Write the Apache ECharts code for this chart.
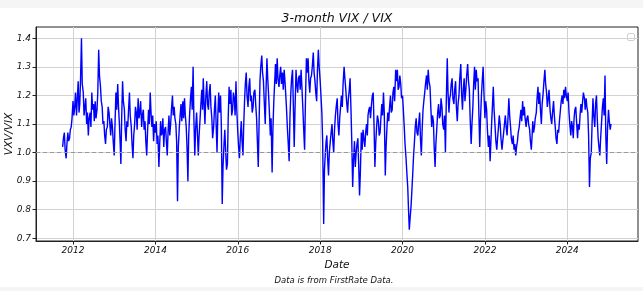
<!DOCTYPE html>
<html>
<head>
<meta charset="utf-8">
<script src="https://cdn.jsdelivr.net/npm/echarts@6/dist/echarts.min.js"></script>
<style>
  html, body { margin: 0; padding: 0; background: #f5f5f5; }
  #chart { width: 643px; height: 291px; }
</style>
</head>
<body>
<div id="chart"></div>
<script>
  // VXV / VIX, four values a month (1st, 8th, 16th, 23rd), from Oct 2011
  var startYear = 2011, startMonth = 9;
  var days = [1, 8, 16, 23];
  var v2011 = [1.02,1.05, 1.07,1.01, 0.98,1.03, 1.07,1.04, 1.05,1.08, 1.09,1.12];
  var v2012 = [1.18,1.13, 1.16,1.21, 1.13,1.19, 1.25,1.14, 1.17,1.26, 1.40,1.24, 1.21,1.13, 1.16,1.19, 1.10,1.14, 1.06,1.12, 1.14,1.09, 1.21,1.15,
               1.17,1.11, 1.18,1.12, 1.15,1.21, 1.36,1.27, 1.23,1.18, 1.16,1.10, 1.11,1.06, 1.03,1.08, 1.09,1.16, 1.14,1.10, 1.06,1.12, 1.09,1.04];
  var v2013 = [0.99,1.10, 1.21,1.15, 1.24,1.16, 1.10,1.03, 0.96,1.12, 1.25,1.18, 1.15,1.08, 1.04,1.11, 1.09,1.15, 1.21,1.13, 1.09,1.03, 0.98,1.06,
               1.10,1.16, 1.14,1.08, 1.19,1.12, 1.14,1.18, 1.09,1.13, 1.15,1.08, 1.11,1.04, 0.99,1.07, 1.15,1.10, 1.21,1.14, 1.09,1.13, 1.04,1.10];
  var v2014 = [1.07,1.11, 1.03,1.06, 0.95,1.03, 1.11,1.06, 1.07,1.12, 1.02,1.08, 1.09,1.04, 0.99,1.07, 1.13,1.06, 1.10,1.15, 1.20,1.13, 1.16,1.12,
               1.10,1.04, 0.83,1.02, 1.09,1.13, 1.17,1.11, 1.18,1.12, 1.19,1.13, 1.09,1.02, 0.90,1.06, 1.14,1.19, 1.23,1.15, 1.30,1.12, 0.99,1.08];
  var v2015 = [1.14,1.07, 0.99,1.06, 1.12,1.17, 1.22,1.15, 1.26,1.18, 1.10,1.19, 1.25,1.17, 1.15,1.21, 1.24,1.16, 1.12,1.05, 1.09,1.15, 1.20,1.10,
               1.00,1.13, 1.21,1.14, 1.20,1.10, 0.82,0.95, 1.03,1.08, 1.00,0.94, 0.96,1.12, 1.23,1.17, 1.22,1.13, 1.15,1.21, 1.19,1.13, 1.25,1.15];
  var v2016 = [1.07,1.02, 0.98,1.05, 1.11,1.04, 0.99,1.10, 1.18,1.24, 1.28,1.20, 1.16,1.23, 1.26,1.18, 1.20,1.14, 1.16,1.21, 1.22,1.17, 1.12,1.04,
               0.95,1.10, 1.25,1.30, 1.34,1.28, 1.25,1.18, 1.10,1.22, 1.33,1.26, 1.20,1.14, 1.06,1.12, 0.93,1.08, 1.18,1.24, 1.31,1.24, 1.33,1.26];
  var v2017 = [1.23,1.27, 1.30,1.24, 1.28,1.22, 1.29,1.25, 1.21,1.16, 1.09,1.04, 0.97,1.12, 1.21,1.26, 1.29,1.17, 1.02,1.15, 1.29,1.24, 1.21,1.26,
               1.27,1.22, 1.29,1.23, 1.15,1.08, 1.01,1.17, 1.33,1.28, 1.33,1.25, 1.21,1.26, 1.27,1.30, 1.35,1.28, 1.25,1.21, 1.18,1.29, 1.36,1.30];
  var v2018 = [1.25,1.20, 1.14,1.04, 0.75,0.94, 1.00,1.04, 1.06,0.98, 0.92,1.00, 1.04,1.07, 1.10,1.04, 1.00,1.08, 1.13,1.16, 1.19,1.10, 1.06,1.12,
               1.16,1.20, 1.16,1.24, 1.30,1.26, 1.22,1.18, 1.14,1.19, 1.22,1.26, 1.15,1.04, 0.88,0.97, 1.04,0.95, 1.00,1.03, 1.05,0.96, 0.85,0.93];
  var v2019 = [1.07,1.01, 1.08,1.05, 1.02,1.07, 1.10,1.06, 1.13,1.15, 1.16,1.12, 1.17,1.20, 1.21,1.10, 0.95,1.03, 1.09,1.13, 1.11,1.06, 1.07,1.12,
               1.17,1.13, 1.21,1.14, 0.92,1.02, 1.09,1.14, 1.11,1.16, 1.20,1.14, 1.15,1.21, 1.23,1.18, 1.29,1.25, 1.29,1.22, 1.23,1.27, 1.24,1.19];
  var v2020 = [1.20,1.15, 1.09,1.03, 0.98,0.93, 0.88,0.80, 0.73,0.77, 0.81,0.86, 0.93,0.99, 1.04,1.09, 1.12,1.07, 1.06,1.10, 1.14,1.05, 0.99,1.08,
               1.15,1.18, 1.21,1.24, 1.27,1.22, 1.29,1.25, 1.23,1.16, 1.09,1.13, 1.11,1.02, 0.95,1.03, 1.09,1.14, 1.17,1.12, 1.13,1.19, 1.16,1.10];
  var v2021 = [1.08,1.13, 1.00,1.17, 1.33,1.21, 1.14,1.19, 1.20,1.24, 1.26,1.19, 1.17,1.22, 1.25,1.16, 1.11,1.17, 1.20,1.26, 1.31,1.21, 1.15,1.22,
               1.26,1.18, 1.22,1.27, 1.31,1.25, 1.22,1.12, 1.03,1.10, 1.16,1.24, 1.30,1.22, 1.29,1.25, 1.26,1.14, 1.02,1.12, 1.20,1.25, 1.30,1.21];
  var v2022 = [1.12,1.18, 1.15,1.08, 1.02,1.06, 0.97,1.04, 1.10,1.16, 1.23,1.15, 1.09,1.04, 1.01,1.05, 1.09,1.13, 1.10,1.05, 1.01,1.04, 1.07,1.10,
               1.13,1.09, 1.06,1.11, 1.19,1.13, 1.09,1.05, 1.03,1.06, 1.01,1.03, 0.99,1.02, 1.04,1.07, 1.09,1.12, 1.15,1.11, 1.18,1.13, 1.16,1.12];
  var v2023 = [1.09,1.12, 1.13,1.10, 1.08,1.04, 1.01,1.06, 1.11,1.07, 1.09,1.12, 1.14,1.19, 1.23,1.17, 1.21,1.15, 1.10,1.17, 1.21,1.25, 1.29,1.24,
               1.21,1.16, 1.19,1.22, 1.15,1.12, 1.10,1.14, 1.18,1.13, 1.09,1.05, 1.03,1.08, 1.07,1.11, 1.15,1.18, 1.20,1.17, 1.22,1.19, 1.23,1.20];
  var v2024 = [1.18,1.21, 1.14,1.10, 1.06,1.11, 1.09,1.05, 1.12,1.15, 1.16,1.11, 1.05,1.10, 1.08,1.13, 1.17,1.14, 1.18,1.21, 1.19,1.15, 1.19,1.16,
               1.14,1.06, 0.88,0.98, 1.00,1.10, 1.19,1.13, 1.09,1.17, 1.20,1.12, 1.05,1.02, 0.99,1.05, 1.11,1.16, 1.19,1.13, 1.27,1.06, 0.96,1.08];
  var v2025 = [1.15,1.11, 1.08,1.10];

  var yearTicks = [2012, 2014, 2016, 2018, 2020, 2022, 2024];
  var ratioTicks = [0.7, 0.8, 0.9, 1.0, 1.1, 1.2, 1.3, 1.4];

  var values = [].concat(v2011, v2012, v2013, v2014, v2015, v2016, v2017, v2018,
    v2019, v2020, v2021, v2022, v2023, v2024, v2025);

  // date -> fractional year, so the x axis can be a plain value axis
  function yearFrac(d) {
    var y = d.getFullYear();
    var a = new Date(y, 0, 1).getTime(), b = new Date(y + 1, 0, 1).getTime();
    return y + (d.getTime() - a) / (b - a);
  }

  var seriesData = values.map(function (v, i) {
    var d = new Date(startYear, startMonth + Math.floor(i / 4), days[i % 4]);
    return [yearFrac(d), v];
  });

  var font = '"DejaVu Sans", sans-serif';
  var txt = { fontFamily: font, fontStyle: 'italic', color: '#111' };

  var chart = echarts.init(document.getElementById('chart'));
  chart.setOption({
    animation: false,
    backgroundColor: '#fff',
    title: {
      text: '3-month VIX / VIX',
      left: 337, top: 12, padding: 0, textAlign: 'center',
      textStyle: Object.assign({ fontSize: 12.5, fontWeight: 'normal' }, txt)
    },
    grid: {
      left: 36, right: 5, top: 27, bottom: 50,
      outerBoundsMode: 'none', containLabel: false,
      show: true, borderColor: '#222', borderWidth: 1
    },
    xAxis: {
      type: 'value',
      min: 2011.101, max: 2025.716,
      name: 'Date', nameLocation: 'middle', nameGap: 18,
      nameTextStyle: Object.assign({ fontSize: 10.5 }, txt),
      axisLine: { show: true, lineStyle: { color: '#222' } },
      axisTick: { show: true, length: 3.5, lineStyle: { color: '#222' }, customValues: yearTicks },
      axisLabel: Object.assign({
        fontSize: 9, margin: 5,
        customValues: yearTicks,
        formatter: function (v) { return String(Math.round(v)); }
      }, txt),
      splitLine: { show: true, lineStyle: { color: '#d2d2d2', width: 1 } }
    },
    yAxis: {
      type: 'value',
      min: 0.6905, max: 1.4396,
      name: 'VXV/VIX', nameLocation: 'middle', nameGap: 21, nameRotate: 90,
      nameMoveOverlap: false,
      nameTextStyle: Object.assign({ fontSize: 10.5 }, txt),
      axisLine: { show: true, lineStyle: { color: '#222' } },
      axisTick: { show: true, length: 3.5, lineStyle: { color: '#222' }, customValues: ratioTicks },
      axisLabel: Object.assign({
        fontSize: 9, margin: 5,
        customValues: ratioTicks,
        formatter: function (v) { return v.toFixed(1); }
      }, txt),
      splitLine: { show: true, lineStyle: { color: '#d2d2d2', width: 1 } }
    },
    series: [{
      type: 'line',
      data: seriesData,
      showSymbol: false,
      lineStyle: { color: '#0000ff', width: 1.4 },
      markLine: {
        silent: true, symbol: 'none', label: { show: false },
        lineStyle: { color: '#999', type: [4, 3], width: 1 },
        data: [{ yAxis: 1.0 }]
      }
    }],
    graphic: [
      { type: 'rect', left: 0, top: 0, shape: { width: 643, height: 8 }, style: { fill: '#f5f5f5' }, silent: true },
      { type: 'rect', left: 0, top: 287, shape: { width: 643, height: 4 }, style: { fill: '#f5f5f5' }, silent: true },
      { type: 'rect', left: 627, top: 33, shape: { width: 7, height: 7, r: 1.5 }, style: { fill: '#fff', stroke: '#d0d0d0', lineWidth: 1 }, silent: true },
      { type: 'text', x: 334, y: 276,
        style: { text: 'Data is from FirstRate Data.', textAlign: 'center', font: 'italic 8.5px "DejaVu Sans", sans-serif', fill: '#111' } }
    ]
  });
</script>
</body>
</html>
